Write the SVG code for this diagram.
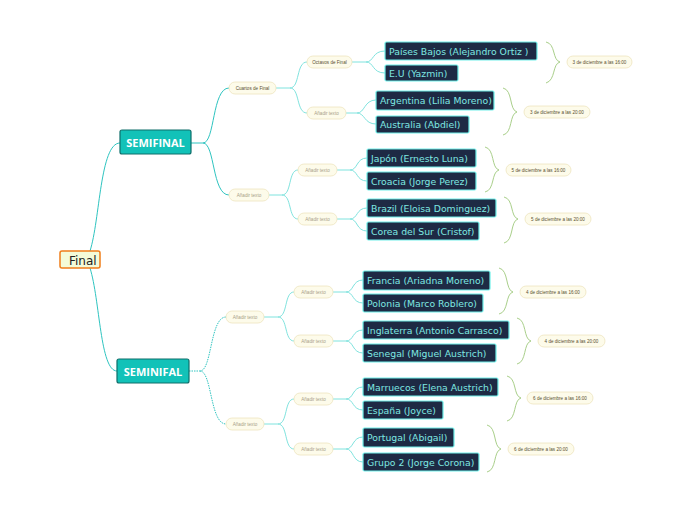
<svg xmlns="http://www.w3.org/2000/svg" width="697" height="520" viewBox="0 0 697 520">
<style>
.c1{fill:none;stroke:#2ec4c0;stroke-width:1}
.c2{fill:none;stroke:#7fe3de;stroke-width:1}
.dt{stroke-dasharray:1.5 1}
.br{fill:none;stroke:#a9cf8a;stroke-width:1}
.lab{fill:#fdfbea;stroke:#eee5bf;stroke-width:0.8}
.lt{font-family:"Liberation Sans Narrow","Liberation Sans",sans-serif;font-size:4.6px;fill:#5a5030;text-anchor:middle}
.lg{fill:#a8a088}
.leaf{fill:#1e2a44;stroke:#6ff0ea;stroke-width:1.2}
.ltx{font-family:"DejaVu Sans",sans-serif;font-size:9.3px;fill:#7fe8e2}
.sf{fill:#12c2b8;stroke:#0e6e6a;stroke-width:1.2}
.sft{font-family:"Open Sans","DejaVu Sans",sans-serif;font-weight:bold;font-size:11px;fill:#fff;text-anchor:middle}
</style>
<g id="connectors">
<path class="c1" d="M90 251 C100 220,100 143,120 143"/>
<path class="c1" d="M90 268 C100 300,100 371,117 371"/>
<path class="c1" d="M191 143 H203 C215 143,212 88,229 88"/>
<path class="c1" d="M203 143 C215 143,212 195,229 195"/>
<path class="c1 dt" d="M189 371 H200 C212 371,210 317,226 317"/>
<path class="c1 dt" d="M200 371 C212 371,210 424,226 424"/>
<path class="c2" d="M276 88 H290 C300 88,296 62,307 62"/>
<path class="c2" d="M290 88 C300 88,296 113,307 113"/>
<path class="c2" d="M269 195 H282 C292 195,288 170,298 170"/>
<path class="c2" d="M282 195 C292 195,288 219,298 219"/>
<path class="c2" d="M264 317 H278 C288 317,284 292,294 292"/>
<path class="c2" d="M278 317 C288 317,284 341,294 341"/>
<path class="c2" d="M264 424 H278 C288 424,284 399,294 399"/>
<path class="c2" d="M278 424 C288 424,284 449,294 449"/>
<path class="c2" d="M352 62 H366 C374 62,372 51,385 51"/>
<path class="c2" d="M366 62 C374 62,372 73,385 73"/>
<path class="c2" d="M346 113 H357 C365 113,364 100,376 100"/>
<path class="c2" d="M357 113 C365 113,364 124,376 124"/>
<path class="c2" d="M337 170 H350 C358 170,356 158,367 158"/>
<path class="c2" d="M350 170 C358 170,356 181,367 181"/>
<path class="c2" d="M337 219 H350 C358 219,356 208,367 208"/>
<path class="c2" d="M350 219 C358 219,356 231,367 231"/>
<path class="c2" d="M333 292 H346 C354 292,352 280,363 280"/>
<path class="c2" d="M346 292 C354 292,352 303,363 303"/>
<path class="c2" d="M333 341 H346 C354 341,352 330,363 330"/>
<path class="c2" d="M346 341 C354 341,352 353,363 353"/>
<path class="c2" d="M333 399 H346 C354 399,352 387,363 387"/>
<path class="c2" d="M346 399 C354 399,352 410,363 410"/>
<path class="c2" d="M333 449 H346 C354 449,352 437,363 437"/>
<path class="c2" d="M346 449 C354 449,352 462,363 462"/>
<path class="br" d="M546 42 C556 44,552 60,560 62 C552 64,556 80,546 83"/>
<path class="br" d="M503 88 C513 90,509 110,517 112 C509 114,513 133,503 135"/>
<path class="br" d="M485 147 C495 149,491 168,499 170 C491 172,495 190,485 192"/>
<path class="br" d="M504 197 C514 199,510 217,518 219 C510 221,514 241,504 243"/>
<path class="br" d="M499 268 C509 270,505 290,513 292 C505 294,509 312,499 314"/>
<path class="br" d="M517 318 C527 320,523 339,531 341 C523 343,527 362,517 364"/>
<path class="br" d="M507 376 C517 378,513 396,521 398 C513 400,517 419,507 421"/>
<path class="br" d="M487 425 C497 427,493 447,501 449 C493 451,497 470,487 472"/>
</g>
<g id="final"><rect x="60" y="251" width="40" height="17" rx="2" fill="#f4fbd8" stroke="#f07e1a" stroke-width="1.5"/><text x="69" y="264.5" font-family="DejaVu Sans,sans-serif" font-size="12" fill="#222">Final</text></g>
<g id="semifinal"><rect class="sf" x="120" y="130" width="71" height="24" rx="2"/><text class="sft" x="155.5" y="146.5">SEMIFINAL</text></g>
<g id="seminifal"><rect class="sf" x="117" y="359" width="72" height="24" rx="2"/><text class="sft" x="153" y="375.5">SEMINIFAL</text></g>
<g id="l2a"><rect class="lab" x="229" y="82" width="47" height="12" rx="6"/><text class="lt" x="252.5" y="89.6">Cuartos de Final</text></g>
<g id="l2b"><rect class="lab" x="229" y="189" width="40" height="12" rx="6"/><text class="lt lg" x="249" y="196.6">Añadir texto</text></g>
<g id="l2c"><rect class="lab" x="226" y="311" width="38" height="12" rx="6"/><text class="lt lg" x="245" y="318.6">Añadir texto</text></g>
<g id="l2d"><rect class="lab" x="226" y="418" width="38" height="12" rx="6"/><text class="lt lg" x="245" y="425.6">Añadir texto</text></g>
<g id="l3a"><rect class="lab" x="307" y="56" width="45" height="12" rx="6"/><text class="lt" x="329.5" y="63.6">Octavos de Final</text></g>
<g id="l3b"><rect class="lab" x="307" y="107" width="39" height="12" rx="6"/><text class="lt lg" x="326.5" y="114.6">Añadir texto</text></g>
<g id="l3c"><rect class="lab" x="298" y="164" width="39" height="12" rx="6"/><text class="lt lg" x="317.5" y="171.6">Añadir texto</text></g>
<g id="l3d"><rect class="lab" x="298" y="213" width="39" height="12" rx="6"/><text class="lt lg" x="317.5" y="220.6">Añadir texto</text></g>
<g id="l3e"><rect class="lab" x="294" y="286" width="39" height="12" rx="6"/><text class="lt lg" x="313.5" y="293.6">Añadir texto</text></g>
<g id="l3f"><rect class="lab" x="294" y="335" width="39" height="12" rx="6"/><text class="lt lg" x="313.5" y="342.6">Añadir texto</text></g>
<g id="l3g"><rect class="lab" x="294" y="393" width="39" height="12" rx="6"/><text class="lt lg" x="313.5" y="400.6">Añadir texto</text></g>
<g id="l3h"><rect class="lab" x="294" y="443" width="39" height="12" rx="6"/><text class="lt lg" x="313.5" y="450.6">Añadir texto</text></g>
<g id="n1"><rect class="leaf" x="385" y="42" width="152" height="18" rx="1.5"/><text class="ltx" x="389" y="54.5">Países Bajos  (Alejandro Ortiz )</text></g>
<g id="n2"><rect class="leaf" x="385" y="65" width="73" height="16" rx="1.5"/><text class="ltx" x="389" y="76.5">E.U  (Yazmin)</text></g>
<g id="n3"><rect class="leaf" x="376" y="91" width="118" height="19" rx="1.5"/><text class="ltx" x="380" y="104">Argentina (Lilia Moreno)</text></g>
<g id="n4"><rect class="leaf" x="376" y="116" width="93" height="17" rx="1.5"/><text class="ltx" x="380" y="128">Australia  (Abdiel)</text></g>
<g id="n5"><rect class="leaf" x="367" y="149" width="109" height="18" rx="1.5"/><text class="ltx" x="371" y="161.5">Japón  (Ernesto Luna)</text></g>
<g id="n6"><rect class="leaf" x="367" y="172" width="109" height="18" rx="1.5"/><text class="ltx" x="371" y="184.5">Croacia  (Jorge Perez)</text></g>
<g id="n7"><rect class="leaf" x="367" y="199" width="129" height="18" rx="1.5"/><text class="ltx" x="371" y="211.5">Brazil  (Eloisa Dominguez)</text></g>
<g id="n8"><rect class="leaf" x="367" y="222" width="112" height="18" rx="1.5"/><text class="ltx" x="371" y="234.5">Corea del Sur (Cristof)</text></g>
<g id="n9"><rect class="leaf" x="363" y="271" width="127" height="19" rx="1.5"/><text class="ltx" x="367" y="284">Francia  (Ariadna Moreno)</text></g>
<g id="n10"><rect class="leaf" x="363" y="294" width="120" height="18" rx="1.5"/><text class="ltx" x="367" y="306.5">Polonia  (Marco Roblero)</text></g>
<g id="n11"><rect class="leaf" x="363" y="321" width="146" height="18" rx="1.5"/><text class="ltx" x="367" y="333.5">Inglaterra  (Antonio Carrasco)</text></g>
<g id="n12"><rect class="leaf" x="363" y="344" width="133" height="18" rx="1.5"/><text class="ltx" x="367" y="356.5">Senegal  (Miguel Austrich)</text></g>
<g id="n13"><rect class="leaf" x="363" y="378" width="135" height="18" rx="1.5"/><text class="ltx" x="367" y="390.5">Marruecos (Elena Austrich)</text></g>
<g id="n14"><rect class="leaf" x="363" y="401" width="80" height="18" rx="1.5"/><text class="ltx" x="367" y="413.5">España  (Joyce)</text></g>
<g id="n15"><rect class="leaf" x="363" y="428" width="91" height="19" rx="1.5"/><text class="ltx" x="367" y="441">Portugal  (Abigail)</text></g>
<g id="n16"><rect class="leaf" x="363" y="453" width="116" height="18" rx="1.5"/><text class="ltx" x="367" y="465.5">Grupo 2 (Jorge Corona)</text></g>
<g id="d1"><rect class="lab" x="567" y="56" width="65" height="12" rx="6"/><text class="lt" x="599.5" y="63.6">3 de diciembre a las 16:00</text></g>
<g id="d2"><rect class="lab" x="524" y="106" width="66" height="12" rx="6"/><text class="lt" x="557" y="113.6">3 de diciembre a las 20:00</text></g>
<g id="d3"><rect class="lab" x="506" y="164" width="65" height="12" rx="6"/><text class="lt" x="538.5" y="171.6">5 de diciembre a las 16:00</text></g>
<g id="d4"><rect class="lab" x="525" y="213" width="66" height="12" rx="6"/><text class="lt" x="558" y="220.6">5 de diciembre a las 20:00</text></g>
<g id="d5"><rect class="lab" x="520" y="286" width="66" height="12" rx="6"/><text class="lt" x="553" y="293.6">4 de diciembre a las 16:00</text></g>
<g id="d6"><rect class="lab" x="538" y="335" width="67" height="12" rx="6"/><text class="lt" x="571.5" y="342.6">4 de diciembre a las 20:00</text></g>
<g id="d7"><rect class="lab" x="527" y="392" width="66" height="12" rx="6"/><text class="lt" x="560" y="399.6">6 de diciembre a las 16:00</text></g>
<g id="d8"><rect class="lab" x="508" y="443" width="66" height="12" rx="6"/><text class="lt" x="541" y="450.6">6 de diciembre a las 20:00</text></g>
</svg>
